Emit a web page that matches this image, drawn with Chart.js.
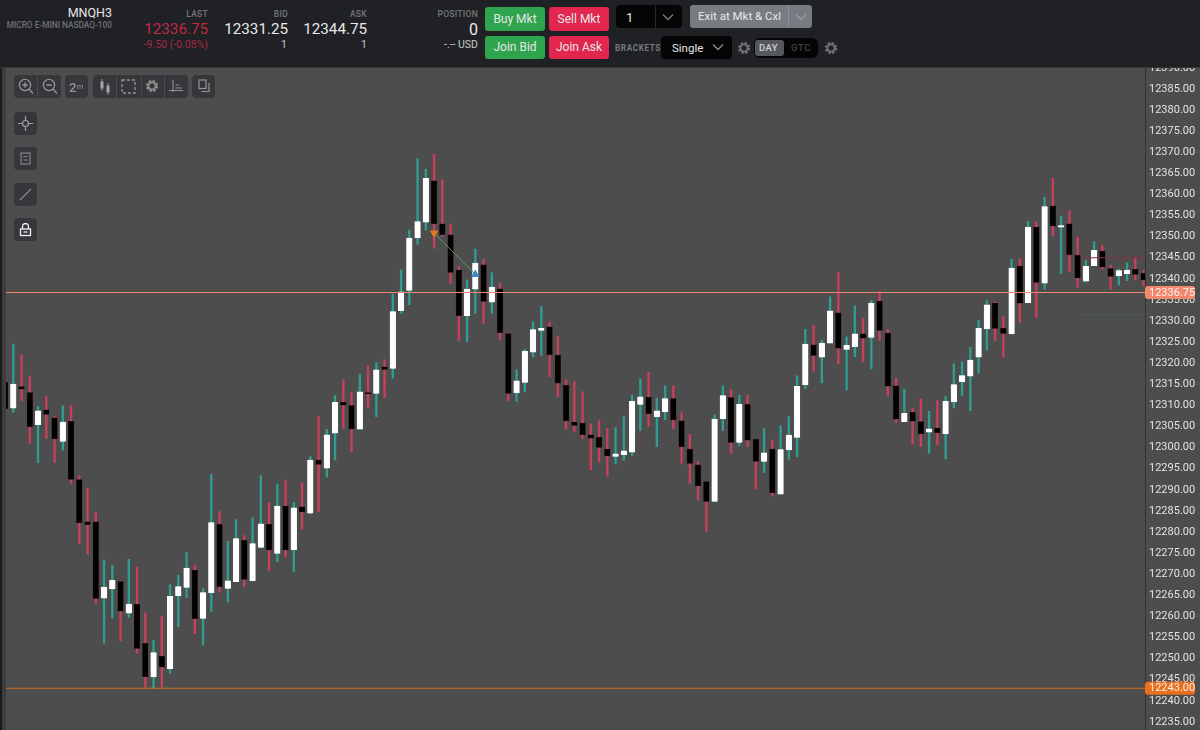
<!DOCTYPE html>
<html>
<head>
<meta charset="utf-8">
<title>MNQH3</title>
<script src="https://cdn.jsdelivr.net/npm/chart.js@4/dist/chart.umd.min.js"></script>
<style>
html, body { margin: 0; padding: 0; background: #4d4d4d; }
body { width: 1200px; height: 730px; overflow: hidden; position: relative; font-family: Roboto, sans-serif; }
#priceChart { position: absolute; left: 0; top: 0; }
#leftStrip { position: absolute; left: 0; top: 0; width: 6px; height: 730px; background: #3c3c3c; border-left: 2px solid #1a1a1a; box-sizing: border-box; }
#header { position: absolute; left: 0; top: 0; width: 1200px; height: 68px; background: #1f2125; border-bottom: 1px solid #33353a; box-sizing: border-box; }
.t { position: absolute; white-space: nowrap; line-height: 1; transform: translateY(-50%); }
.r { text-align: right; }
.cap { font-size: 8.5px; color: #74767a; letter-spacing: .3px; font-weight: 500; }
.price { font-size: 15.2px; color: #e8e8e8; }
.small { font-size: 10.5px; color: #c8c8c8; }
.btn { position: absolute; border-radius: 3px; color: #e6e6e6; font-size: 12px; text-align: center; }
.green { background: #2ea44f; }
.red { background: #e2264e; }
.box { position: absolute; background: #050505; border-radius: 4px; }
.tool { position: absolute; background: #36373b; border-radius: 4px; }
.tool svg, #header svg { position: absolute; }
.div { position: absolute; top: 0; bottom: 0; width: 1px; background: #4a4b4f; }
</style>
</head>
<body>
<canvas id="priceChart" width="1200" height="730"></canvas>
<div id="leftStrip"></div>

<div id="header">
  <div class="t r" style="right:1088px;top:12.5px;font-size:12.5px;color:#e6e6e6">MNQH3</div>
  <div class="t r" style="right:1088px;top:25px;font-size:8.3px;color:#6f7175;font-weight:500">MICRO E-MINI NASDAQ-100</div>

  <div class="t r cap" style="right:992px;top:13.5px">LAST</div>
  <div class="t r price" style="right:992px;top:30px;color:#c02a45">12336.75</div>
  <div class="t r small" style="right:992px;top:44.5px;color:#a32a40">-9.50 (-0.08%)</div>

  <div class="t r cap" style="right:912px;top:13.5px">BID</div>
  <div class="t r price" style="right:912px;top:30px">12331.25</div>
  <div class="t r small" style="right:913px;top:44.5px">1</div>

  <div class="t r cap" style="right:833px;top:13.5px">ASK</div>
  <div class="t r price" style="right:833px;top:30px">12344.75</div>
  <div class="t r small" style="right:833px;top:44.5px">1</div>

  <div class="t r cap" style="right:722px;top:13.5px">POSITION</div>
  <div class="t r price" style="right:722px;top:29.5px;font-size:16px">0</div>
  <div class="t r small" style="right:722px;top:44.5px">-.-- USD</div>

  <div class="btn green" style="left:485px;top:7px;width:60px;height:24px;line-height:24px">Buy Mkt</div>
  <div class="btn red" style="left:549px;top:7px;width:60px;height:24px;line-height:24px">Sell Mkt</div>
  <div class="btn green" style="left:485px;top:36px;width:60px;height:23px;line-height:23px">Join Bid</div>
  <div class="btn red" style="left:549px;top:36px;width:60px;height:23px;line-height:23px">Join Ask</div>

  <div class="box" style="left:616px;top:5px;width:66px;height:23px">
    <div class="t" style="left:10px;top:11.5px;font-size:13px;color:#e6e6e6">1</div>
    <div class="div" style="left:39px;background:#26272a"></div>
    <svg style="left:46px;top:8px" width="12" height="8"><path d="M1 1.5 L6 6.5 L11 1.5" fill="none" stroke="#7c7c7c" stroke-width="1.3"/></svg>
  </div>

  <div class="btn" style="left:690px;top:5px;width:122px;height:23px;background:#787b82">
    <div class="t" style="left:8px;top:11.5px;font-size:11.5px;color:#e8e8e8">Exit at Mkt &amp; Cxl</div>
    <div class="div" style="left:98px;background:#8c8f96"></div>
    <svg style="left:105px;top:8px" width="12" height="8"><path d="M1 1.5 L6 6.5 L11 1.5" fill="none" stroke="#999ba0" stroke-width="1.3"/></svg>
  </div>

  <div class="t" style="left:615px;top:48px;font-size:8.2px;font-weight:700;letter-spacing:.6px;color:#77797d">BRACKETS</div>
  <div class="box" style="left:661px;top:36px;width:71px;height:23px">
    <div class="t" style="left:11px;top:12.5px;font-size:11.5px;color:#e6e6e6">Single</div>
    <svg style="left:51px;top:7px" width="12" height="8"><path d="M1 1.5 L6 6.5 L11 1.5" fill="none" stroke="#8e8e8e" stroke-width="1.3"/></svg>
  </div>

  <svg style="left:737px;top:41px" width="14" height="14"><circle cx="7" cy="7" r="4.4" fill="none" stroke="#6d6f74" stroke-width="3.4" stroke-dasharray="2.2 1.25"/><circle cx="7" cy="7" r="3.6" fill="none" stroke="#6d6f74" stroke-width="1.8"/></svg>

  <div class="box" style="left:754px;top:38px;width:64px;height:20px;border-radius:6px">
    <div style="position:absolute;left:1px;top:2px;width:29px;height:16px;background:#55585e;border-radius:3px"></div>
    <div class="t" style="left:5px;top:10px;font-size:9.5px;font-weight:500;letter-spacing:.5px;color:#d0d0d0">DAY</div>
    <div class="t" style="left:37px;top:10px;font-size:9.5px;font-weight:500;letter-spacing:.5px;color:#3f4145">GTC</div>
  </div>

  <svg style="left:824px;top:41px" width="14" height="14"><circle cx="7" cy="7" r="4.4" fill="none" stroke="#6d6f74" stroke-width="3.4" stroke-dasharray="2.2 1.25"/><circle cx="7" cy="7" r="3.6" fill="none" stroke="#6d6f74" stroke-width="1.8"/></svg>
</div>

<!-- chart tool buttons -->
<div class="tool" style="left:14px;top:75px;width:47px;height:23px">
  <div class="div" style="left:23px"></div>
  <svg style="left:3px;top:2px" width="18" height="18" fill="none" stroke="#949494" stroke-width="1.3"><circle cx="8" cy="8" r="5.6"/><path d="M12 12 L16 16.5 M5.2 8 H10.8 M8 5.2 V10.8"/></svg>
  <svg style="left:27px;top:2px" width="18" height="18" fill="none" stroke="#949494" stroke-width="1.3"><circle cx="8" cy="8" r="5.6"/><path d="M12 12 L16 16.5 M5.2 8 H10.8"/></svg>
</div>
<div class="tool" style="left:65px;top:75px;width:23px;height:23px">
  <div class="t" style="left:4px;top:12px;font-size:13px;color:#949494;font-weight:500">2<sup style="font-size:8px;vertical-align:3px;line-height:0;font-weight:400">m</sup></div>
</div>
<div class="tool" style="left:93px;top:75px;width:95px;height:23px">
  <div class="div" style="left:23px"></div><div class="div" style="left:48px"></div><div class="div" style="left:71px"></div>
  <svg style="left:5px;top:3px" width="14" height="18"><path d="M4 1 V13 M10 5 V17" stroke="#949494" stroke-width="1"/><rect x="2.5" y="3.5" width="3" height="7" fill="#a6a6a6"/><rect x="8.5" y="7.5" width="3" height="7" fill="#a6a6a6"/></svg>
  <svg style="left:28px;top:4px" width="15" height="15"><rect x="1" y="1" width="13" height="13" fill="none" stroke="#949494" stroke-width="1.3" stroke-dasharray="3 2"/></svg>
  <svg style="left:52px;top:4px" width="14" height="14"><circle cx="7" cy="7" r="4.4" fill="none" stroke="#8c8c8c" stroke-width="3.4" stroke-dasharray="2.2 1.25"/><circle cx="7" cy="7" r="3.6" fill="none" stroke="#8c8c8c" stroke-width="1.8"/></svg>
  <svg style="left:76px;top:4px" width="15" height="15" fill="none" stroke="#949494" stroke-width="1.1"><path d="M4 1 V13 M0 11.5 H14 M6.5 6 H10 M6.5 9 H13"/></svg>
</div>
<div class="tool" style="left:192px;top:75px;width:23px;height:23px">
  <svg style="left:6px;top:4px" width="14" height="15" fill="none" stroke="#949494" stroke-width="1.2"><rect x="1" y="1" width="7" height="8.5"/><path d="M11 4 V12.5 H3.5"/></svg>
</div>

<div class="tool" style="left:14px;top:112px;width:23px;height:23px">
  <svg style="left:4px;top:4px" width="15" height="15" fill="none" stroke="#a0a0a0" stroke-width="1.2"><circle cx="7.5" cy="7.5" r="3"/><path d="M7.5 0 V4 M7.5 11 V15 M0 7.5 H4 M11 7.5 H15"/></svg>
</div>
<div class="tool" style="left:14px;top:147px;width:23px;height:23px">
  <svg style="left:6px;top:5px" width="11" height="13" fill="none" stroke="#8a8a8a" stroke-width="1.1"><rect x="1" y="1" width="9" height="11"/><path d="M3.5 4.5 H7.5 M3.5 8 H7.5"/></svg>
</div>
<div class="tool" style="left:14px;top:183px;width:23px;height:23px">
  <svg style="left:5px;top:5px" width="13" height="13"><path d="M1 12 L12 1" stroke="#8a8a8a" stroke-width="1.2"/></svg>
</div>
<div class="tool" style="left:14px;top:218px;width:23px;height:23px">
  <svg style="left:5px;top:5px" width="13" height="14" fill="none" stroke="#f0f0f0" stroke-width="1.3"><path d="M3.5 6 V3.5 A3 3 0 0 1 9.5 3.5 V6"/><rect x="1.5" y="6" width="10" height="6.5"/><path d="M4.5 9 H8.5"/></svg>
</div>

<script>
// price series, one candle per 2 minutes
const opens = [
  12315.2,12309.1,12314.2,12312.8,12305.2,12308.7,12306.8,12301.2,12306,12292.2,
  12282.2,12282.2,12264.1,12266.3,12268,12260.5,12262.6,12253.4,12245.4,12250.3,
  12247.4,12264.6,12266.6,12270.7,12259.3,12265.4,12281.6,12266.4,12268,12277.8,
  12268.2,12276.1,12281.6,12274.7,12285.9,12275.6,12285.7,12284.2,12296.8,12294.9,
  12303.2,12310.5,12309.7,12304.1,12312.8,12312.6,12318.9,12318.5,12332.2,12337,
  12349.5,12353.2,12363,12352.8,12350.2,12341.8,12331,12337.3,12343.1,12334.2,
  12337.4,12326.8,12312.7,12315.2,12322.4,12327.5,12328.4,12321.7,12314.5,12305.8,
  12305.5,12302.8,12302.2,12299.4,12297.7,12298,12298.7,12310,12311.7,12307.1,
  12308.3,12311.4,12306.1,12299.4,12295.7,12291.7,12287,12306.6,12311.6,12301,
  12310,12301.7,12296.5,12299.4,12288.7,12299.2,12302.2,12314.7,12324.1,12321.2,
  12324.5,12331.7,12323,12323.7,12326.7,12325.9,12334.5,12326.9,12314.4,12305.9,
  12308.1,12305.9,12303.4,12304.4,12303,12310.6,12315.4,12316.7,12321.2,12327.9,
  12334,12328,12326.7,12342.8,12334.1,12352,12338.7,12357,12352,12352.8,
  12345.3,12339.2,12342.9,12346.3,12342.2,12340.5,12341,12342,12341.1
];
const highs = [
  12315.8,12324.3,12321.7,12316.7,12309.5,12311.8,12307.1,12309.7,12309.8,12293.1,
  12290.1,12284.4,12273.1,12271.9,12268,12273.3,12271.4,12260.6,12254.1,12259.7,
  12267.3,12269.5,12274.9,12271.9,12266.4,12293.4,12284.6,12277.6,12282.7,12278.9,
  12283.1,12293.1,12286.7,12291.1,12292.1,12286.8,12291.4,12297.6,12307.1,12304.1,
  12312.1,12315.9,12312.9,12317.1,12319.1,12319.9,12320.6,12336.2,12341.9,12351.3,
  12368.2,12365.7,12369.3,12363.2,12352.8,12342.7,12339.5,12346.8,12344.4,12341.2,
  12338.7,12326.9,12318.2,12323.1,12329.6,12333.2,12329.5,12326.1,12315.8,12315.4,
  12313,12305.4,12306.1,12304.3,12304.5,12307.1,12312.2,12316,12317.6,12311.5,
  12314.4,12314.4,12308,12302.9,12296.4,12291.7,12307.5,12314.4,12313.4,12312.2,
  12312.2,12301.7,12304.3,12301.5,12304.9,12307.1,12316.8,12327.8,12328.7,12325.2,
  12335.5,12341.3,12326,12333.4,12330.4,12334.7,12336.7,12327.8,12316.2,12313.6,
  12309.1,12311.3,12308.4,12310.9,12312,12319.6,12320.1,12323.5,12329.9,12334.6,
  12334.2,12330.8,12344.4,12344.6,12353.4,12353.3,12359.1,12363.6,12354.6,12355.9,
  12349.6,12344.2,12348.6,12347.7,12343,12342,12343.6,12344.6,12341.7
];
const lows = [
  12309,12308.1,12310.9,12300.8,12296.2,12302,12296.2,12299.2,12291.3,12277,
  12274.5,12262.9,12253.4,12259.4,12254,12259.5,12251.1,12243,12242.7,12243,
  12246.3,12257.3,12264.2,12255.7,12253,12260.9,12265.6,12263.2,12268,12266.8,
  12268.2,12276.1,12270.6,12272.7,12273.9,12270.3,12280.4,12284,12284.6,12292.8,
  12296.8,12304.3,12298.8,12304.1,12309.2,12307.1,12311.6,12316.2,12331.6,12333.6,
  12347.9,12351.3,12347,12349.8,12338.7,12325.1,12324.9,12331.6,12329.2,12331.6,
  12325.3,12310.9,12310.7,12313,12321.3,12321.6,12316.6,12311.8,12304.1,12303.5,
  12301.9,12294.5,12296.4,12293,12295.9,12296.8,12297.9,12303.8,12304.7,12300,
  12306.3,12304.3,12295.9,12291.3,12287.4,12279.9,12287,12303.8,12298.4,12300.2,
  12300,12289.9,12293.8,12288.3,12288.7,12297,12297.6,12313.8,12317.9,12315.1,
  12324.5,12319.6,12313.4,12321.3,12320.1,12318.4,12325.1,12312.1,12305.7,12305.9,
  12300.6,12300,12298.4,12300.5,12297.1,12309.2,12312.1,12308.5,12317.4,12322.9,
  12325.1,12321.2,12326.7,12329.4,12334.1,12330.6,12337.3,12349.9,12341,12341.5,
  12337.7,12339,12342.9,12342,12337.3,12338.3,12339.3,12339.5,12338
];
const closes = [
  12309,12314.8,12313.6,12304.7,12308.5,12307.6,12301.8,12305.8,12292.2,12282,
  12281.5,12264,12266.7,12268.3,12261,12262.7,12252.2,12245.5,12251.2,12247.8,
  12264.5,12266.8,12271.2,12259.2,12265.4,12282,12266.8,12268.2,12278.2,12268.5,
  12277,12281.7,12275.5,12285.9,12275.5,12285.5,12284.6,12296.8,12295.8,12302.8,
  12310.5,12309.8,12304.2,12313,12312.5,12318.2,12318.3,12332,12336.7,12349.4,
  12353.3,12363.6,12352.8,12350.2,12341.3,12331,12337.3,12343.5,12334.4,12337.8,
  12327,12312.6,12315.6,12322.6,12327.7,12328,12321.8,12315,12306.1,12305,
  12302.8,12302,12299.8,12297.8,12298.3,12299,12310.7,12311.8,12307.8,12308.5,
  12311.4,12306.3,12300,12296,12290.7,12287,12306.5,12312.1,12301,12310,
  12301.5,12296.5,12298.5,12289.1,12299.3,12302.7,12314.3,12324.3,12321.6,12324.5,
  12332.2,12323.3,12324,12326.7,12325.7,12334,12327.5,12314.3,12306.5,12307.9,
  12306,12303,12304.2,12303.3,12310.7,12314.7,12316.8,12320.5,12328,12333.6,
  12328,12326.8,12342.3,12334,12352,12338.9,12356.9,12352.3,12352.4,12345.5,
  12340,12342.7,12346.5,12342.6,12340.3,12341.7,12341.8,12340.8,12339.5
];

// levels shown on the chart: the text on the tag, and where the line reads against the axis
const lastPrice = 12336.75;
const stopPrice = 12243;
const lastLine = 12336.5;
const stopLine = 12242.75;
const bidLine = 12331.25;
const askLine = 12344.75;

// the round trip trade: sold at candle 52, bought back at candle 57
const tradeCandles = [52, 57];
const tradePrices = [12350.6, 12340.8];

// visible range of the two axes
const firstVisible = 0.115;
const lastVisible = 138.17;
const priceMin = 12232.84;
const priceMax = 12405.83;

const TEAL = '#2f9d90';
const RED = '#c9405c';

const isUp = i => closes[i] >= opens[i];

const wicks = opens.map((o, i) => ({ x: i, y: [lows[i], highs[i]] }));
const bodies = opens.map((o, i) => ({ x: i, y: [Math.min(o, closes[i]), Math.max(o, closes[i])] }));

function levelLine(price, color, from, width, dash) {
    return {
        type: 'line',
        data: [{ x: from, y: price }, { x: lastVisible, y: price }],
        borderColor: color,
        borderWidth: width,
        borderDash: dash || [],
        pointRadius: 0,
        order: 1
    };
}

// price tags on the right axis
const priceTags = {
    id: 'priceTags',
    afterDraw(chart) {
        const ctx = chart.ctx;
        const y = chart.scales.y;
        [[lastPrice, lastLine, '#f0896f'], [stopPrice, stopLine, '#e8701e']].forEach(([price, line, color]) => {
            const py = y.getPixelForValue(line);
            ctx.save();
            ctx.fillStyle = color;
            ctx.beginPath();
            ctx.roundRect(1145, py - 6.5, 50, 13, 3);
            ctx.fill();
            ctx.fillStyle = '#fbefe9';
            ctx.font = '11px Roboto';
            ctx.textBaseline = 'middle';
            ctx.fillText(price.toFixed(2), 1149, py + 0.5);
            ctx.restore();
        });
    }
};

new Chart(document.getElementById('priceChart'), {
    type: 'bar',
    data: {
        datasets: [
            levelLine(lastLine, '#ee8a70', firstVisible, 1.1),
            levelLine(stopLine, '#d4701f', firstVisible, 1.1),
            levelLine(askLine, '#8a2f3e', 130.5, 1),
            levelLine(bidLine, '#3f7a45', 130.5, 1, [2, 2]),
            {
                type: 'line',
                data: tradeCandles.map((x, i) => ({ x: x, y: tradePrices[i] })),
                borderColor: '#5f9a5f',
                borderWidth: 1,
                pointStyle: 'triangle',
                pointRadius: 5,
                pointRotation: [180, 0],
                pointBackgroundColor: ['#e07a1f', '#3f86c9'],
                pointBorderWidth: 0,
                order: 0
            },
            {
                data: bodies,
                grouped: false,
                barThickness: 5.6,
                backgroundColor: bodies.map((b, i) => isUp(i) ? '#ffffff' : '#000000'),
                borderColor: bodies.map((b, i) => isUp(i) ? '#ffffff' : '#40121c'),
                borderWidth: 0.5,
                borderSkipped: false,
                order: 2
            },
            {
                data: wicks,
                grouped: false,
                barThickness: 1.7,
                backgroundColor: wicks.map((w, i) => isUp(i) ? TEAL : RED),
                borderWidth: 0,
                order: 3
            }
        ]
    },
    options: {
        responsive: false,
        animation: false,
        maintainAspectRatio: false,
        layout: { autoPadding: false, padding: { left: 6, right: 0, top: 0, bottom: 0 } },
        plugins: { legend: { display: false }, tooltip: { enabled: false } },
        scales: {
            x: {
                type: 'linear',
                offset: false,
                min: firstVisible,
                max: lastVisible,
                display: false,
                grid: { display: false }
            },
            y: {
                position: 'right',
                min: priceMin,
                max: priceMax,
                // no room reserved for half a label above and below the axis
                afterFit: axis => {
                    axis.width = 55;
                    axis.paddingTop = 0;
                    axis.paddingBottom = 0;
                },
                grid: { display: false, drawTicks: false },
                border: { display: true, color: '#313131', width: 1 },
                ticks: {
                    stepSize: 5,
                    includeBounds: false,
                    padding: 4,
                    labelOffset: 1,
                    autoSkip: false,
                    color: '#e2e2e2',
                    font: { family: 'Roboto', size: 11 },
                    callback: v => v.toFixed(2)
                }
            }
        }
    },
    plugins: [priceTags]
});
</script>
</body>
</html>
